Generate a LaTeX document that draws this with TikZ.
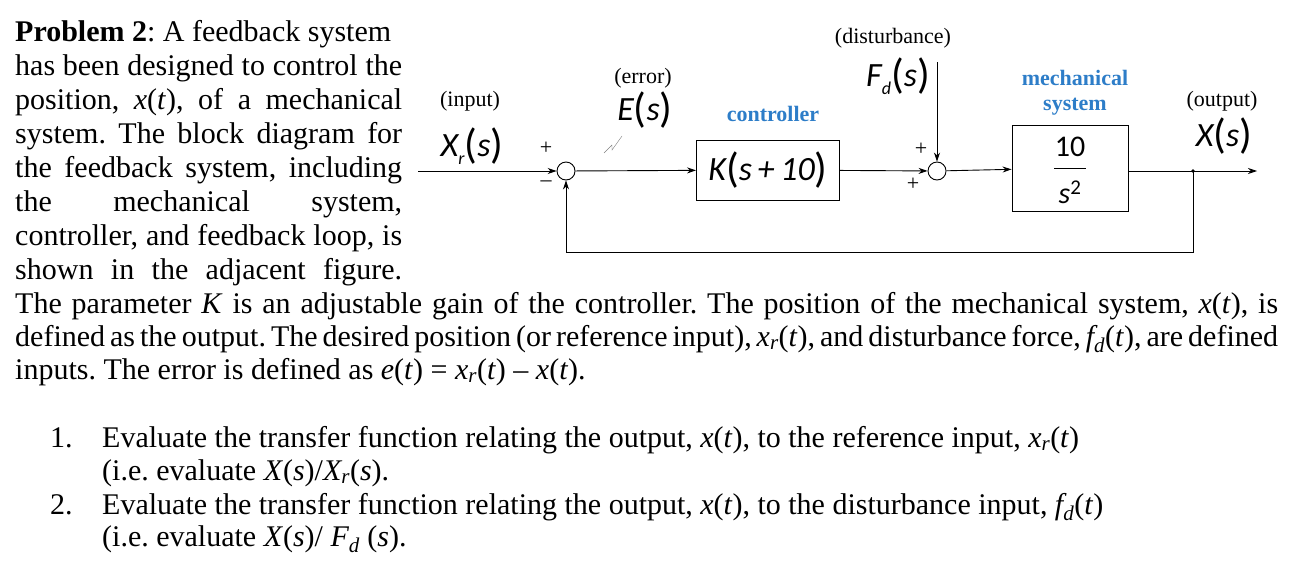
\documentclass[tikz,border=0pt]{standalone}
\usepackage{fontspec}
\setmainfont{Liberation Serif}
\newfontfamily\cf{Carlito}
\usetikzlibrary{arrows.meta,decorations.pathmorphing}
\definecolor{bl}{RGB}{45,125,200}
\newcommand{\J}[2]{\makebox[#1pt][s]{#2}}
\newcommand{\Pa}[1]{{\fontsize{42}{42}\selectfont\cf\upshape\raisebox{-1.5pt}{#1}}}
\frenchspacing
\begin{document}
\begin{tikzpicture}[x=1pt,y=-1pt,
 txt/.style={anchor=base west,inner sep=0pt,font=\fontsize{30}{34}\selectfont},
 sm/.style={inner sep=0pt,font=\fontsize{22}{24}\selectfont},
 blt/.style={inner sep=0pt,font=\fontsize{22}{24}\selectfont\bfseries,text=bl},
 sym/.style={inner sep=0pt,font=\fontsize{34}{36}\selectfont\cf\itshape},
 blk/.style={draw,line width=0.9pt,inner sep=0pt},
 sumc/.style={draw,circle,minimum size=18pt,inner sep=0pt,line width=0.9pt},
 ar/.style={-{Stealth[length=9pt,width=6pt]},line width=0.9pt},
 ln/.style={line width=0.9pt}]
\useasboundingbox (0,0) rectangle (1292,560);
% left paragraph
\node[txt] (l1) at (15,41) {\textbf{Problem 2}: A feedback system};
\node[txt] (l2) at (15,75) {\J{387}{has been designed to control the}};
\node[txt] (l3) at (15,109) {\J{387}{position, \textit{x}(\textit{t}), of a mechanical}};
\node[txt] (l4) at (15,143) {\J{387}{system. The block diagram for}};
\node[txt] (l5) at (15,177) {\J{387}{the feedback system, including}};
\node[txt] (l6) at (15,211) {\J{387}{the mechanical system,}};
\node[txt] (l7) at (15,245) {\J{387}{controller, and feedback loop, is}};
\node[txt] (l8) at (15,279) {\J{387}{shown in the adjacent figure.}};
\node[txt] (l9) at (15,313) {\J{1263}{The parameter \textit{K} is an adjustable gain of the controller. The position of the mechanical system, \textit{x}(\textit{t}), is}};
\node[txt] (l10) at (15,346) {\J{1263}{defined as the output. The desired position (or reference input), \textit{x\textsubscript{r}}(\textit{t}), and disturbance force, \textit{f\textsubscript{d}}(\textit{t}), are defined}};
\node[txt] (l11) at (15,379) {inputs. The error is defined as \textit{e}(\textit{t}) = \textit{x\textsubscript{r}}(\textit{t}) -- \textit{x}(\textit{t}).};
\node[txt] (n1) at (50,447) {1.};
\node[txt] (i1) at (102,447) {Evaluate the transfer function relating the output, \textit{x}(\textit{t}), to the reference input, \textit{x\textsubscript{r}}(\textit{t})};
\node[txt] (i1b) at (102,480) {(i.e. evaluate \textit{X}(\textit{s})/\textit{X\textsubscript{r}}(\textit{s}).};
\node[txt] (n2) at (50,514) {2.};
\node[txt] (i2) at (102,514) {Evaluate the transfer function relating the output, \textit{x}(\textit{t}), to the disturbance input, \textit{f\textsubscript{d}}(\textit{t})};
\node[txt] (i2b) at (102,546) {(i.e. evaluate \textit{X}(\textit{s})/ \textit{F\textsubscript{d}} (\textit{s}).};
% diagram
\coordinate (in) at (418,171);
\node[sumc] (s1) at (566,171) {};
\node[blk,minimum width=143pt,minimum height=60pt] (ctl) at (768,170) {\fontsize{34}{36}\selectfont\cf\itshape K\Pa{(}s\,+\,10\Pa{)}};
\node[sumc] (s2) at (937,171) {};
\node[blk,minimum width=116pt,minimum height=86pt] (mech) at (1070,168) {};
\node[inner sep=0pt,font=\fontsize{30}{30}\selectfont\cf] (ten) at (1070,147) {10};
\draw[ln] (1054,168) -- (1086,168);
\node[inner sep=0pt,font=\fontsize{30}{30}\selectfont\cf\itshape] (s2t) at (1070,192) {s\textsuperscript{\upshape 2}};
\coordinate (br) at (1193,171);
\coordinate (out) at (1257,171);
\coordinate (dtop) at (937,62);
\coordinate (fb1) at (1193,252);
\coordinate (fb2) at (566,252);
\draw[ar] (in) -- (s1);
\draw[ar] (s1) -- (ctl);
\draw[ar] (ctl) -- (s2);
\draw[ar] (s2) -- (mech);
\draw[ar] (mech.east|-br) -- (out);
\fill (br) circle (1.8pt);
\draw[ar] (br) -- (fb1) -- (fb2) -- (s1);
\draw[ar] (dtop) -- (s2);
% labels
\node[sm] (inl) at (470,101) {(input)};
\node[sym] (xr) at (472,146) {X\raisebox{-8pt}{\fontsize{18}{18}\selectfont r}\Pa{(}s\Pa{)}};
\node[sm] (errl) at (643,78) {(error)};
\node[sym] (es) at (645,110) {E\Pa{(}s\Pa{)}};
\draw[line width=0.4pt,gray] (604,153) -- (612,145) -- (612,150) -- (622,136);
\node[blt] (ctll) at (773,114) {controller};
\node[sm] (disl) at (893,38) {(disturbance)};
\node[sym] (fd) at (898,76) {F\raisebox{-8pt}{\fontsize{18}{18}\selectfont d}\Pa{(}s\Pa{)}};
\node[blt] (mechl) at (1075,78) {mechanical};
\node[blt] (sysl) at (1075,107) {system};
\node[sm] (outl) at (1222,101) {(output)};
\node[sym] (xs) at (1224,136) {X\Pa{(}s\Pa{)}};
\node[sm] (p1) at (546,148) {+};
\node[sm] (m1) at (546,184) {--};
\node[sm] (p2) at (921,149) {+};
\node[sm] (p3) at (913,184) {+};
\end{tikzpicture}
\end{document}
